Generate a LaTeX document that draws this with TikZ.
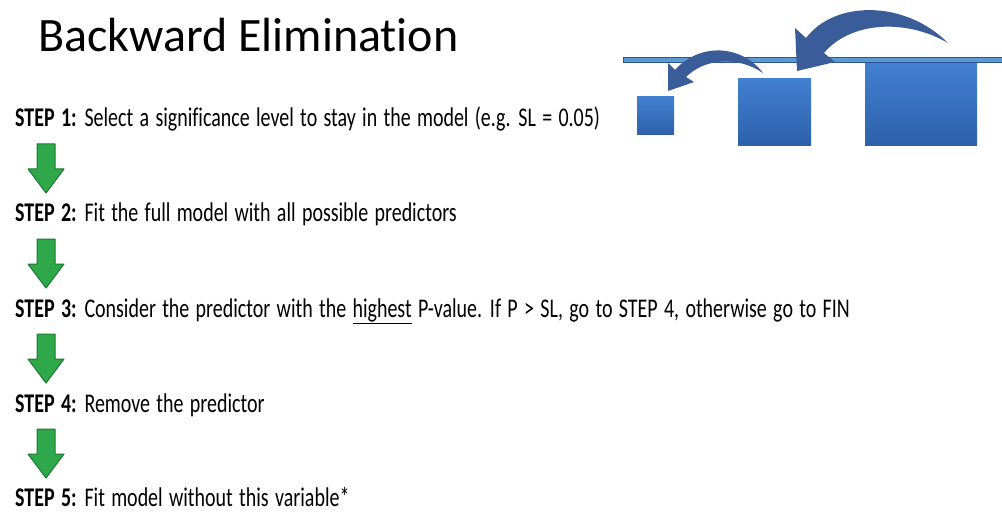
\documentclass[tikz,border=0pt]{standalone}
\usepackage{fontspec}
\usepackage{tikz}
\usetikzlibrary{calc}
\newfontfamily\titlefont[Ligatures=NoCommon]{Carlito}
\newfontfamily\stepfont[FakeStretch=0.74,WordSpace=1.4,Ligatures=NoCommon]{Carlito}
\definecolor{arrowgreen}{RGB}{46,168,74}
\definecolor{arrowedge}{RGB}{26,122,48}
\definecolor{boxtop}{RGB}{66,128,208}
\definecolor{boxbot}{RGB}{46,96,170}
\definecolor{barblue}{RGB}{91,155,213}
\definecolor{bardark}{RGB}{47,85,151}
\definecolor{jumpblue}{RGB}{58,92,153}
\tikzset{
  steptext/.style={anchor=base west,inner sep=0pt,font=\stepfont\fontsize{27}{30}\selectfont},
  downarrow/.style={fill=arrowgreen,draw=arrowedge,line width=1pt,line join=round},
  blockbox/.style={top color=boxtop,bottom color=boxbot,draw=none},
  jump/.style={fill=jumpblue,draw=none}
}
\begin{document}
\begin{tikzpicture}[x=1pt,y=-1pt]
\useasboundingbox (0,0) rectangle (1002,524);
\node[anchor=base west,inner sep=0pt,font=\titlefont\fontsize{48}{52}\selectfont] (title) at (38,52) {Backward Elimination};
%steps
\node[steptext] (step1) at (15,127) {\textbf{STEP 1:} Select a significance level to stay in the model (e.g. SL = 0.05)};
\node[steptext] (step2) at (15,222) {\textbf{STEP 2:} Fit the full model with all possible predictors};
\node[steptext] (step3) at (15,317) {\textbf{STEP 3:} Consider the predictor with the \underline{highest} P-value. If P > SL, go to STEP 4, otherwise go to FIN};
\node[steptext] (step4) at (15,412) {\textbf{STEP 4:} Remove the predictor};
\node[steptext] (step5) at (15,506) {\textbf{STEP 5:} Fit model without this variable*};
%green arrows
\foreach \y in {167,262,357,452}
  \draw[downarrow] (37,\y-23) -- (55,\y-23) -- (55,\y+2) -- (64,\y+2) -- (46,\y+26) -- (28,\y+2) -- (37,\y+2) -- cycle;
%model boxes
\draw[fill=barblue,draw=bardark,line width=0.8pt] (623,57) rectangle (1010,62);
\fill[blockbox] (637,97) rectangle (674,135);
\fill[blockbox] (738,79) rectangle (811,146);
\fill[blockbox] (865,64) rectangle (977,146);
%curved arrows
\fill[jump] (948,43) .. controls (905,0) and (835,0) .. (806,38) -- (795,28) -- (797,71) -- (835,62) -- (824,53) .. controls (850,22) and (905,18) .. (948,43) -- cycle;
\fill[jump] (763,73) .. controls (742,45) and (700,42) .. (675,70) -- (668,63) -- (668,91) -- (694,82) -- (686,77) .. controls (705,58) and (738,56) .. (763,73) -- cycle;
\end{tikzpicture}
\end{document}
